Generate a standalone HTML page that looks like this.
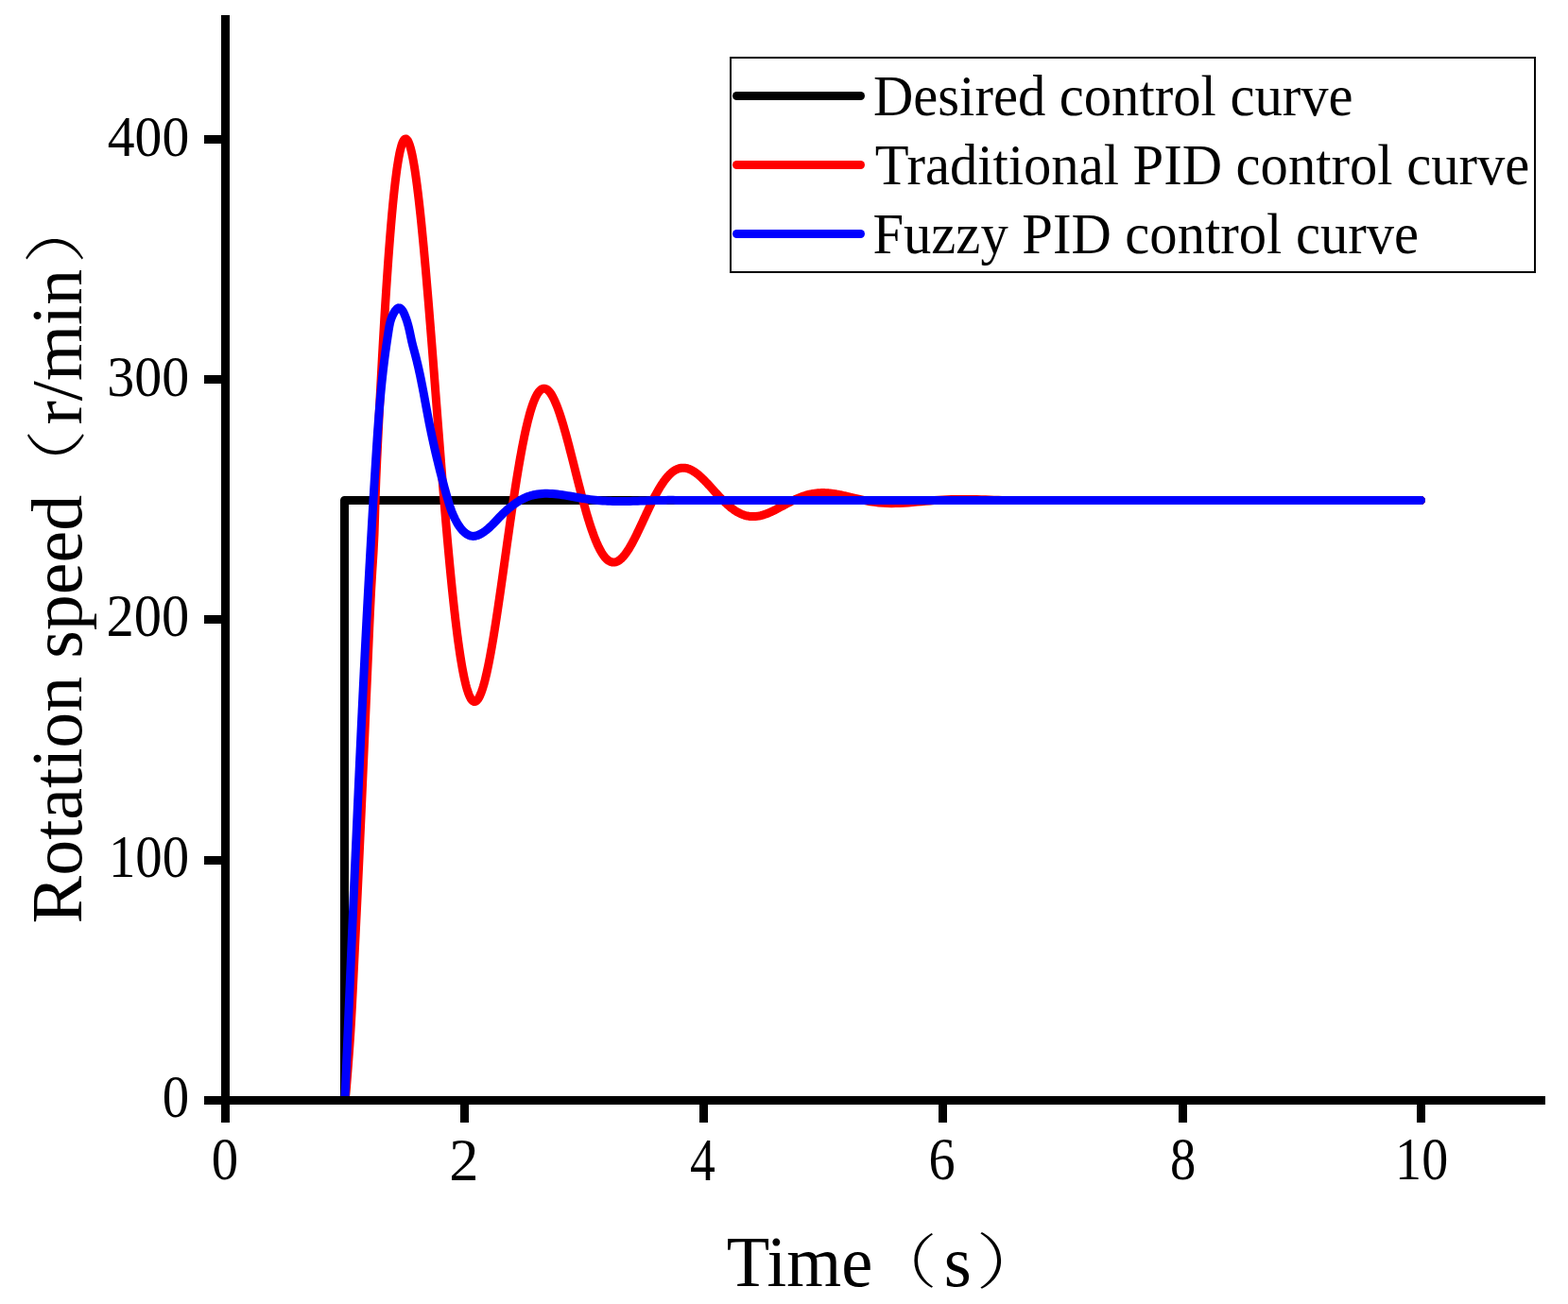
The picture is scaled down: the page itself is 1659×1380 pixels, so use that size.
<!DOCTYPE html>
<html lang="en">
<head>
<meta charset="utf-8">
<title>Rotation speed step response: desired, traditional PID and fuzzy PID control curves</title>
<style>
html,body{margin:0;padding:0;background:#fff}
body{width:1659px;height:1380px;overflow:hidden}
svg{display:block}
text{font-family:"Liberation Serif",serif;fill:#000}
.cjk{font-family:"Noto Serif CJK SC","Liberation Serif",serif;font-weight:200}
</style>
</head>
<body>
<svg width="1659" height="1380" viewBox="0 0 1659 1380" role="img" aria-label="Rotation speed versus time">
<rect x="0" y="0" width="1659" height="1380" fill="#fff"/>
<!-- data curves -->
<g fill="none" stroke-width="9" stroke-linejoin="round" stroke-linecap="round">
<path d="M364.5 1164.5V529.5H1503.5" stroke="#000"/>
<path d="M365.10 1164.50L366.02 1156.10L366.97 1145.04L367.93 1133.23L368.89 1120.71L369.85 1107.50L370.77 1093.63L371.64 1079.14L372.47 1064.05L373.26 1048.39L374.05 1032.19L374.85 1015.50L375.69 998.33L376.55 980.72L377.42 962.69L378.31 944.30L379.19 925.55L380.08 906.50L380.97 887.16L381.85 867.57L382.74 847.77L383.63 827.78L384.51 807.64L385.40 787.37L386.29 767.02L387.17 746.60L388.06 726.15L388.95 705.70L389.84 685.28L390.73 664.92L391.64 644.65L392.64 624.49L393.81 604.48L395.06 584.63L396.04 564.99L396.66 545.56L397.21 526.38L397.90 507.48L398.72 488.87L399.59 470.58L400.48 452.64L401.37 435.05L402.25 417.85L403.14 401.06L404.03 384.68L404.91 368.75L405.80 353.28L406.69 338.28L407.57 323.77L408.46 309.77L409.35 296.29L410.24 283.34L411.12 270.93L412.01 259.08L412.90 247.79L413.78 237.08L414.67 226.95L415.56 217.40L416.44 208.46L417.33 200.11L418.22 192.37L419.11 185.24L419.99 178.72L420.88 172.81L421.77 167.51L422.65 162.83L423.54 158.76L424.43 155.29L425.31 152.44L426.20 150.18L427.09 148.53L427.98 147.46L428.86 146.99L429.75 147.09L430.64 147.76L431.52 148.99L432.41 150.78L433.30 153.11L434.18 155.97L435.07 159.36L435.96 163.25L436.85 167.64L437.73 172.51L438.62 177.84L439.51 183.64L440.39 189.87L441.28 196.52L442.17 203.59L443.05 211.04L443.94 218.87L444.83 227.06L445.72 235.59L446.60 244.44L447.49 253.59L448.38 263.03L449.26 272.74L450.15 282.70L451.04 292.89L451.92 303.29L452.81 313.88L453.70 324.65L454.58 335.57L455.47 346.64L456.36 357.81L457.25 369.09L458.13 380.45L459.02 391.87L459.91 403.34L460.79 414.83L461.68 426.33L462.57 437.82L463.45 449.29L464.34 460.71L465.23 472.08L466.12 483.37L467.00 494.56L467.89 505.65L468.78 516.62L469.66 527.45L470.55 538.13L471.44 548.64L472.32 558.97L473.21 569.11L474.10 579.05L474.99 588.77L475.87 598.27L476.76 607.52L477.65 616.53L478.53 625.27L479.42 633.75L480.31 641.96L481.19 649.87L482.08 657.50L482.97 664.82L483.86 671.83L484.74 678.54L485.63 684.92L486.52 690.99L487.40 696.72L488.29 702.12L489.18 707.19L490.06 711.92L490.95 716.31L491.84 720.37L492.72 724.07L493.61 727.44L494.50 730.46L495.39 733.15L496.27 735.49L497.16 737.49L498.05 739.15L498.93 740.48L499.82 741.47L500.71 742.14L501.59 742.48L502.48 742.50L503.37 742.21L504.26 741.60L505.14 740.69L506.03 739.48L506.92 737.97L507.80 736.18L508.69 734.10L509.58 731.76L510.46 729.14L511.35 726.27L512.24 723.15L513.13 719.78L514.01 716.18L514.90 712.36L515.79 708.32L516.67 704.07L517.56 699.62L518.45 694.99L519.33 690.17L520.22 685.19L521.11 680.05L522.00 674.76L522.88 669.33L523.77 663.77L524.66 658.09L525.54 652.30L526.43 646.41L527.32 640.43L528.20 634.37L529.09 628.24L529.98 622.06L530.86 615.82L531.75 609.55L532.64 603.25L533.53 596.92L534.41 590.59L535.30 584.26L536.19 577.93L537.07 571.62L537.96 565.34L538.85 559.10L539.73 552.90L540.62 546.75L541.51 540.67L542.40 534.65L543.28 528.72L544.17 522.86L545.06 517.10L545.94 511.44L546.83 505.88L547.72 500.44L548.60 495.12L549.49 489.92L550.38 484.86L551.27 479.93L552.15 475.14L553.04 470.51L553.93 466.02L554.81 461.69L555.70 457.52L556.59 453.52L557.47 449.68L558.36 446.02L559.25 442.53L560.14 439.22L561.02 436.08L561.91 433.13L562.80 430.36L563.68 427.78L564.57 425.38L565.46 423.17L566.34 421.14L567.23 419.31L568.12 417.66L569.01 416.20L569.89 414.92L570.78 413.84L571.67 412.93L572.55 412.22L573.44 411.68L574.33 411.33L575.21 411.15L576.10 411.15L576.99 411.32L577.87 411.67L578.76 412.18L579.65 412.86L580.54 413.70L581.42 414.70L582.31 415.86L583.20 417.16L584.08 418.62L584.97 420.21L585.86 421.94L586.74 423.81L587.63 425.81L588.52 427.93L589.41 430.17L590.29 432.53L591.18 435.00L592.07 437.57L592.95 440.24L593.84 443.00L594.73 445.85L595.61 448.79L596.50 451.80L597.39 454.89L598.28 458.04L599.16 461.26L600.05 464.53L600.94 467.85L601.82 471.21L602.71 474.61L603.60 478.05L604.48 481.51L605.37 485.00L606.26 488.50L607.15 492.01L608.03 495.53L608.92 499.05L609.81 502.57L610.69 506.07L611.58 509.56L612.47 513.04L613.35 516.48L614.24 519.90L615.13 523.28L616.01 526.63L616.90 529.93L617.79 533.19L618.68 536.39L619.56 539.54L620.45 542.63L621.34 545.65L622.22 548.61L623.11 551.50L624.00 554.32L624.88 557.06L625.77 559.72L626.66 562.30L627.55 564.79L628.43 567.19L629.32 569.51L630.21 571.73L631.09 573.86L631.98 575.89L632.87 577.83L633.75 579.67L634.64 581.40L635.53 583.04L636.42 584.57L637.30 586.00L638.19 587.32L639.08 588.54L639.96 589.66L640.85 590.67L641.74 591.58L642.62 592.38L643.51 593.07L644.40 593.67L645.29 594.16L646.17 594.54L647.06 594.83L647.95 595.01L648.83 595.10L649.72 595.09L650.61 594.98L651.49 594.77L652.38 594.47L653.27 594.08L654.15 593.61L655.04 593.04L655.93 592.39L656.82 591.65L657.70 590.84L658.59 589.94L659.48 588.97L660.36 587.93L661.25 586.81L662.14 585.63L663.02 584.39L663.91 583.08L664.80 581.71L665.69 580.28L666.57 578.80L667.46 577.28L668.35 575.70L669.23 574.08L670.12 572.42L671.01 570.72L671.89 568.98L672.78 567.22L673.67 565.42L674.56 563.60L675.44 561.76L676.33 559.89L677.22 558.01L678.10 556.12L678.99 554.22L679.88 552.31L680.76 550.39L681.65 548.48L682.54 546.56L683.43 544.65L684.31 542.75L685.20 540.86L686.09 538.98L686.97 537.11L687.86 535.26L688.75 533.44L689.63 531.63L690.52 529.85L691.41 528.10L692.29 526.37L693.18 524.68L694.07 523.02L694.96 521.40L695.84 519.81L696.73 518.27L697.62 516.76L698.50 515.30L699.39 513.88L700.28 512.50L701.16 511.18L702.05 509.90L702.94 508.66L703.83 507.48L704.71 506.35L705.60 505.27L706.49 504.25L707.37 503.28L708.26 502.36L709.15 501.50L710.03 500.69L710.92 499.93L711.81 499.24L712.70 498.59L713.58 498.01L714.47 497.47L715.36 497.00L716.24 496.58L717.13 496.21L718.02 495.90L718.90 495.65L719.79 495.45L720.68 495.30L721.57 495.20L722.45 495.16L723.34 495.16L724.23 495.22L725.11 495.33L726.00 495.48L726.89 495.69L727.77 495.93L728.66 496.23L729.55 496.57L730.44 496.95L731.32 497.37L732.21 497.84L733.10 498.34L733.98 498.88L734.87 499.46L735.76 500.07L736.64 500.71L737.53 501.39L738.42 502.10L739.30 502.83L740.19 503.59L741.08 504.38L741.97 505.20L742.85 506.03L743.74 506.89L744.63 507.76L745.51 508.65L746.40 509.56L747.29 510.49L748.17 511.42L749.06 512.37L749.95 513.33L750.84 514.29L751.72 515.26L752.61 516.24L753.50 517.22L754.38 518.20L755.27 519.19L756.16 520.17L757.04 521.15L757.93 522.12L758.82 523.09L759.71 524.05L760.59 525.01L761.48 525.96L762.37 526.89L763.25 527.81L764.14 528.73L765.03 529.62L765.91 530.50L766.80 531.37L767.69 532.22L768.58 533.05L769.46 533.86L770.35 534.65L771.24 535.42L772.12 536.17L773.01 536.90L773.90 537.60L774.78 538.28L775.67 538.94L776.56 539.57L777.44 540.18L778.33 540.76L779.22 541.31L780.11 541.84L780.99 542.34L781.88 542.81L782.77 543.25L783.65 543.67L784.54 544.06L785.43 544.42L786.31 544.76L787.20 545.06L788.09 545.34L788.98 545.59L789.86 545.81L790.75 546.00L791.64 546.17L792.52 546.31L793.41 546.42L794.30 546.51L795.18 546.57L796.07 546.60L796.96 546.61L797.85 546.59L798.73 546.55L799.62 546.48L800.51 546.39L801.39 546.27L802.28 546.14L803.17 545.98L804.05 545.80L804.94 545.60L805.83 545.37L806.72 545.13L807.60 544.87L808.49 544.60L809.38 544.30L810.26 543.99L811.15 543.66L812.04 543.32L812.92 542.96L813.81 542.59L814.70 542.21L815.58 541.81L816.47 541.40L817.36 540.98L818.25 540.56L819.13 540.12L820.02 539.68L820.91 539.23L821.79 538.77L822.68 538.31L823.57 537.84L824.45 537.37L825.34 536.89L826.23 536.41L827.12 535.94L828.00 535.45L828.89 534.97L829.78 534.49L830.66 534.02L831.55 533.54L832.44 533.06L833.32 532.59L834.21 532.13L835.10 531.66L835.99 531.21L836.87 530.76L837.76 530.31L838.65 529.87L839.53 529.44L840.42 529.02L841.31 528.60L842.19 528.20L843.08 527.80L843.97 527.42L844.86 527.04L845.74 526.68L846.63 526.32L847.52 525.98L848.40 525.65L849.29 525.33L850.18 525.02L851.06 524.72L851.95 524.44L852.84 524.17L853.73 523.92L854.61 523.67L855.50 523.44L856.39 523.23L857.27 523.02L858.16 522.83L859.05 522.66L859.93 522.50L860.82 522.35L861.71 522.21L862.59 522.09L863.48 521.98L864.37 521.89L865.26 521.80L866.14 521.74L867.03 521.68L867.92 521.64L868.80 521.61L869.69 521.59L870.58 521.58L871.46 521.59L872.35 521.61L873.24 521.64L874.13 521.68L875.01 521.73L875.90 521.79L876.79 521.86L877.67 521.95L878.56 522.04L879.45 522.14L880.33 522.25L881.22 522.37L882.11 522.50L883.00 522.63L883.88 522.78L884.77 522.93L885.66 523.08L886.54 523.25L887.43 523.42L888.32 523.59L889.20 523.77L890.09 523.96L890.98 524.15L891.87 524.34L892.75 524.54L893.64 524.74L894.53 524.94L895.41 525.15L896.30 525.36L902.62 526.87L907.14 527.94L911.66 528.96L916.18 529.89L920.70 530.70L925.21 531.38L929.73 531.92L934.25 532.30L938.77 532.54L943.29 532.64L947.80 532.61L952.32 532.46L956.84 532.22L961.36 531.91L965.88 531.54L970.39 531.14L974.91 530.73L979.43 530.32L983.95 529.93L988.46 529.57L992.98 529.25L997.50 528.98L1002.02 528.76L1006.54 528.60L1011.05 528.49L1015.57 528.43L1020.09 528.42L1024.61 528.46L1029.12 528.53L1033.64 528.62L1038.16 528.74L1042.68 528.87L1047.20 529.01L1051.71 529.18L1056.23 529.32L1060.75 529.43L1065.27 529.51L1069.79 529.55L1074.30 529.57L1078.82 529.57L1083.34 529.56L1087.86 529.53L1092.38 529.50L1096.89 529.50L1101.41 529.50L1105.93 529.50L1110.45 529.50L1114.96 529.50L1119.48 529.50L1124.00 529.50L1503.50 529.50" stroke="#f00"/>
<path d="M364.90 1164.50L365.01 1161.84L365.13 1159.17L365.25 1156.49L365.37 1153.82L365.49 1151.15L365.60 1148.48L365.72 1145.81L365.84 1143.13L365.95 1140.46L366.07 1137.79L366.19 1135.12L366.30 1132.45L366.42 1129.77L366.54 1127.10L366.65 1124.43L366.77 1121.76L366.88 1119.09L367.00 1116.41L367.12 1113.74L367.23 1111.07L367.35 1108.40L367.46 1105.73L367.58 1103.06L367.69 1100.38L367.81 1097.71L367.93 1095.04L368.04 1092.37L368.16 1089.70L368.27 1087.03L368.39 1084.36L368.50 1081.68L368.62 1079.01L368.73 1076.34L368.85 1073.67L368.96 1071.00L369.07 1068.33L369.19 1065.66L369.30 1062.99L369.42 1060.31L369.53 1057.64L369.65 1054.97L369.76 1052.30L369.88 1049.63L369.99 1046.96L370.11 1044.29L370.22 1041.62L370.33 1038.94L370.45 1036.27L370.56 1033.60L370.68 1030.93L370.79 1028.26L370.91 1025.59L371.02 1022.92L371.14 1020.25L371.25 1017.58L371.36 1014.91L371.48 1012.24L371.59 1009.56L371.71 1006.89L371.82 1004.22L371.94 1001.55L372.05 998.88L372.17 996.21L372.28 993.54L372.40 990.87L372.51 988.20L372.62 985.53L372.74 982.86L372.85 980.19L372.97 977.52L373.08 974.85L373.20 972.18L373.31 969.50L373.43 966.83L373.54 964.16L373.66 961.49L373.77 958.82L373.89 956.15L374.00 953.48L374.12 950.81L374.24 948.14L374.35 945.47L374.47 942.80L374.58 940.13L374.70 937.46L374.81 934.79L374.93 932.12L375.05 929.45L375.16 926.78L375.28 924.11L375.39 921.44L375.51 918.77L375.63 916.10L375.74 913.43L375.86 910.76L375.98 908.09L376.10 905.42L376.21 902.75L376.33 900.08L376.45 897.41L376.56 894.74L376.68 892.07L376.80 889.40L376.92 886.73L377.04 884.06L377.15 881.38L377.27 878.71L377.39 876.04L377.51 873.37L377.63 870.70L377.75 868.03L377.87 865.36L377.99 862.69L378.11 860.02L378.22 857.35L378.34 854.68L378.46 852.01L378.58 849.34L378.70 846.67L378.83 844.00L378.95 841.33L379.07 838.66L379.19 835.99L379.31 833.32L379.43 830.65L379.55 827.98L379.67 825.31L379.80 822.64L379.92 819.97L380.04 817.30L380.16 814.63L380.29 811.96L380.41 809.29L380.53 806.62L380.65 803.95L380.78 801.28L380.90 798.61L381.03 795.94L381.15 793.27L381.28 790.60L381.40 787.94L381.53 785.27L381.65 782.60L381.78 779.93L381.90 777.26L382.03 774.59L382.15 771.92L382.28 769.25L382.41 766.58L382.53 763.91L382.66 761.24L382.79 758.57L382.92 755.90L383.04 753.23L383.17 750.56L383.30 747.89L383.43 745.22L383.56 742.55L383.69 739.88L383.82 737.21L383.95 734.54L384.08 731.87L384.21 729.20L384.34 726.53L384.47 723.86L384.60 721.19L384.73 718.52L384.87 715.85L385.00 713.18L385.13 710.51L385.26 707.84L385.40 705.17L385.53 702.50L385.67 699.83L385.80 697.16L385.93 694.49L386.07 691.82L386.20 689.15L386.34 686.48L386.48 683.81L386.61 681.14L386.75 678.47L386.89 675.80L387.02 673.13L387.16 670.46L387.30 667.79L387.44 665.12L387.58 662.45L387.72 659.78L387.85 657.11L387.99 654.44L388.13 651.77L388.27 649.10L388.42 646.43L388.56 643.76L388.70 641.09L388.84 638.41L388.98 635.74L389.13 633.07L389.27 630.40L389.41 627.73L389.56 625.06L389.70 622.39L389.85 619.72L389.99 617.05L390.14 614.38L390.28 611.71L390.43 609.04L390.58 606.37L390.72 603.70L390.87 601.03L391.02 598.36L391.17 595.69L391.32 593.02L391.47 590.35L391.62 587.68L391.77 585.01L391.92 582.34L392.07 579.67L392.22 577.00L392.37 574.33L392.52 571.66L392.68 568.99L392.83 566.31L392.98 563.64L393.14 560.97L393.29 558.30L393.45 555.63L393.60 552.96L393.76 550.29L393.92 547.62L394.07 544.95L394.23 542.28L394.39 539.61L394.55 536.94L394.70 534.27L394.86 531.60L395.02 528.93L395.18 526.25L395.35 523.58L395.51 520.91L395.67 518.24L395.83 515.57L395.99 512.90L396.16 510.23L396.32 507.56L396.49 504.89L396.65 502.22L396.82 499.54L396.98 496.87L397.15 494.20L397.32 491.53L397.48 488.86L397.65 486.19L397.82 483.52L397.99 480.85L398.16 478.18L398.33 475.50L398.51 472.83L398.68 470.16L398.86 467.49L399.04 464.82L399.22 462.15L399.40 459.49L399.58 456.82L399.77 454.15L399.96 451.48L400.16 448.82L400.36 446.15L400.56 443.48L400.76 440.82L400.97 438.16L401.18 435.49L401.40 432.83L401.62 430.17L401.84 427.51L402.07 424.85L402.30 422.19L402.54 419.54L402.79 416.88L403.04 414.23L403.29 411.58L403.55 408.92L403.82 406.27L404.09 403.63L404.37 400.98L404.66 398.33L404.95 395.69L405.25 393.05L405.55 390.40L405.87 387.77L406.19 385.13L406.51 382.49L406.85 379.86L407.19 377.22L407.54 374.59L407.89 371.95L408.26 369.31L408.63 366.68L409.00 364.04L409.39 361.39L409.78 358.75L410.17 356.10L410.58 353.45L410.99 350.79L411.41 348.13L411.86 345.46L412.39 342.76L413.08 340.01L413.96 337.19L415.11 334.30L416.52 331.44L418.11 328.89L419.81 326.94L421.54 325.87L423.22 325.97L424.81 327.22L426.29 329.34L427.64 332.01L428.86 334.94L429.92 337.85L430.84 340.67L431.64 343.41L432.35 346.09L432.98 348.71L433.55 351.29L434.09 353.84L434.61 356.37L435.15 358.90L435.71 361.44L436.33 364.00L436.98 366.57L437.67 369.16L438.38 371.76L439.08 374.37L439.77 376.98L440.43 379.59L441.08 382.21L441.71 384.82L442.33 387.44L442.92 390.05L443.50 392.67L444.07 395.29L444.63 397.91L445.17 400.53L445.70 403.15L446.23 405.77L446.74 408.39L447.25 411.01L447.75 413.64L448.25 416.26L448.74 418.88L449.23 421.51L449.71 424.13L450.20 426.76L450.68 429.38L451.17 432.01L451.66 434.63L452.15 437.25L452.65 439.88L453.15 442.50L453.65 445.13L454.17 447.75L454.69 450.37L455.22 453.00L455.76 455.62L456.30 458.24L456.85 460.86L457.41 463.48L457.98 466.10L458.55 468.71L459.13 471.32L459.72 473.94L460.31 476.55L460.91 479.15L461.52 481.76L462.14 484.36L462.76 486.96L463.39 489.56L464.02 492.15L464.67 494.74L465.32 497.33L465.97 499.91L466.63 502.49L467.30 505.07L467.98 507.64L468.67 510.21L469.36 512.77L470.05 515.33L470.76 517.89L471.47 520.44L472.18 522.98L472.91 525.52L473.64 528.06L474.37 530.58L475.13 533.12L475.93 535.67L476.80 538.24L477.75 540.86L478.81 543.54L479.99 546.27L481.30 549.03L482.73 551.77L484.27 554.43L485.92 556.97L487.68 559.34L489.53 561.50L491.48 563.40L493.51 564.99L495.62 566.21L497.82 567.03L500.08 567.40L502.41 567.28L504.78 566.73L507.18 565.79L509.57 564.52L511.95 562.99L514.29 561.25L516.56 559.37L518.75 557.38L520.84 555.37L522.82 553.35L524.72 551.35L526.56 549.38L528.37 547.44L530.17 545.56L531.98 543.73L533.82 541.97L535.71 540.25L537.66 538.57L539.69 536.90L541.82 535.25L544.04 533.59L546.35 531.98L548.72 530.43L551.15 528.99L553.61 527.68L556.09 526.54L558.58 525.55L561.10 524.70L563.63 524.00L566.18 523.44L568.74 523.00L571.32 522.67L573.91 522.46L576.51 522.34L579.12 522.32L581.74 522.39L584.38 522.53L587.02 522.74L589.67 523.02L592.32 523.35L594.99 523.72L597.65 524.14L600.32 524.58L603.00 525.05L605.68 525.53L608.35 526.02L611.03 526.50L613.71 526.98L616.39 527.44L619.07 527.87L621.74 528.28L624.41 528.64L627.08 528.96L629.75 529.25L632.41 529.50L635.07 529.72L637.72 529.91L640.38 530.07L643.03 530.20L645.68 530.30L648.33 530.38L650.98 530.44L653.63 530.47L656.28 530.49L658.93 530.48L661.58 530.47L664.23 530.43L666.88 530.39L669.53 530.33L672.18 530.27L674.83 530.19L677.49 530.11L680.14 530.03L682.80 529.95L685.46 529.86L688.13 529.78L690.80 529.70L693.47 529.62L696.14 529.55L698.82 529.49L701.50 529.43L704.19 529.39L706.88 529.36L709.58 529.35L712.28 529.36L714.99 529.38L717.70 529.42L1503.50 529.50" stroke="#00f"/>
</g>
<!-- axes and ticks -->
<g fill="#000" shape-rendering="crispEdges">
<rect x="234" y="16" width="9" height="1172"/>
<rect x="216" y="1160" width="1419" height="9"/>
<rect x="487" y="1160" width="9" height="28"/>
<rect x="740" y="1160" width="9" height="28"/>
<rect x="993" y="1160" width="9" height="28"/>
<rect x="1247" y="1160" width="9" height="28"/>
<rect x="1499" y="1160" width="9" height="28"/>
<rect x="216" y="143" width="20" height="9"/>
<rect x="216" y="397" width="20" height="9"/>
<rect x="216" y="651" width="20" height="9"/>
<rect x="216" y="906" width="20" height="9"/>
</g>
<!-- tick labels -->
<g>
<text transform="translate(113.75 165.00) scale(0.994 1.075)" font-size="58px">400</text>
<text transform="translate(113.25 419.00) scale(1 1.075)" font-size="58px">300</text>
<text transform="translate(112.50 673.00) scale(1.009 1.075)" font-size="58px">200</text>
<text transform="translate(115.00 928.00) scale(0.978 1.075)" font-size="58px">100</text>
<text transform="translate(171.75 1182.00) scale(0.98 1.075)" font-size="58px">0</text>
<text transform="translate(223.75 1248.00) scale(0.98 1.075)" font-size="58px">0</text>
<text transform="translate(475.25 1248.62) scale(1.075 1.075)" font-size="58px">2</text>
<text transform="translate(730.00 1248.50) scale(0.925 1.075)" font-size="58px">4</text>
<text transform="translate(982.50 1248.00) scale(0.97 1.075)" font-size="58px">6</text>
<text transform="translate(1237.88 1248.00) scale(0.939 1.075)" font-size="58px">8</text>
<text transform="translate(1476.12 1248.00) scale(0.966 1.075)" font-size="58px">10</text>
</g>
<!-- axis titles -->
<g>
<text transform="translate(768.73 1360.80) scale(0.987 1)" font-size="75.5px">Time</text><text class="cjk" transform="translate(921.50 1357.50) scale(1.111 0.9831)" font-size="63px">（</text><text transform="translate(998.72 1360.80) scale(0.987 1)" font-size="75.5px">s</text><text class="cjk" transform="translate(1032.50 1357.50) scale(1.225 1.018)" font-size="63px">）</text>
</g>
<g>
<text transform="translate(86.20 977.50) rotate(-90) scale(1 0.99)" font-size="76px">Rotation speed</text><text class="cjk" transform="translate(82.50 531.50) rotate(-90) scale(1.225 1.017)" font-size="63px">（</text><text transform="translate(86.20 449.50) rotate(-90) scale(1 0.99)" font-size="76px">r/min</text><text class="cjk" transform="translate(81.50 279.50) rotate(-90) scale(1.225 1.035)" font-size="63px">）</text>
</g>
<!-- legend -->
<rect x="773" y="61" width="851" height="227" fill="#fff" stroke="#000" stroke-width="2" shape-rendering="crispEdges"/>
<g fill="none" stroke-width="9" stroke-linecap="round">
<path d="M779.5 101.5H910.5" stroke="#000"/>
<path d="M779.5 174.5H910.5" stroke="#f00"/>
<path d="M779.5 247.5H910.5" stroke="#00f"/>
</g>
<g>
<text transform="translate(924.00 122.00) scale(1 1.04)" font-size="58.6px">Desired control curve</text>
<text transform="translate(925.70 194.70) scale(1 1.04)" font-size="58.6px">Traditional PID control curve</text>
<text transform="translate(923.50 267.80) scale(1 1.04)" font-size="58.6px">Fuzzy PID control curve</text>
</g>
</svg>
</body>
</html>
